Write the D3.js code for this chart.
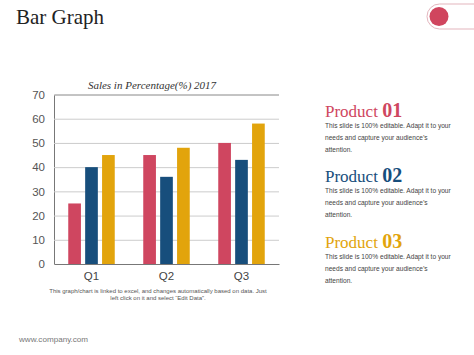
<!DOCTYPE html>
<html><head><meta charset="utf-8">
<script src="https://cdn.jsdelivr.net/npm/d3@7"></script>
<style>body{margin:0;background:#fff}svg{display:block}</style>
</head><body>
<script>
const categories = ["Q1","Q2","Q3"];
const seriesNames = ["Product 01","Product 02","Product 03"];
const product01 = [25,45,50];
const product02 = [40,36,43];
const product03 = [45,48,58];
const yTicks = [0,10,20,30,40,50,60,70];
const colors = ["#cf4660","#174e7c","#e2a40c"];
const desc = ["This slide is 100% editable. Adapt it to your","needs and capture your audience’s","attention."];

const W=474,H=355;
const svg=d3.select("body").append("svg").attr("width",W).attr("height",H);

svg.append("text").attr("x",16).attr("y",24).attr("font-family","Liberation Serif, serif")
  .attr("font-size",21).attr("fill","#222").text("Bar Graph");
// top right pill
svg.append("rect").attr("x",427).attr("y",4).attr("width",60).attr("height",25).attr("rx",12.5)
  .attr("fill","#fff").attr("stroke","#e3b5bd").attr("stroke-width",1);
svg.append("circle").attr("cx",439).attr("cy",16.5).attr("r",9.5).attr("fill","#d0455e");

const x0=d3.scaleBand().domain(categories).range([54,279]).paddingInner(0.38).paddingOuter(0.19);
const x1=d3.scaleBand().domain(seriesNames).range([0,x0.bandwidth()]).paddingInner(0.25);
const y=d3.scaleLinear().domain([0,70]).range([264,94.5]);

const g=svg.append("g");
const gy=g.append("g").attr("transform","translate(54,0)")
 .call(d3.axisLeft(y).tickValues(yTicks).tickSize(-225).tickPadding(9));
gy.select(".domain").attr("stroke","#777");
gy.selectAll(".tick line").attr("stroke","#ccc");
gy.selectAll(".tick text").attr("font-family","Liberation Sans, Arial, sans-serif").attr("font-size",11.5).attr("fill","#555");

svg.append("text").attr("x",152).attr("y",89).attr("text-anchor","middle")
 .attr("font-family","Liberation Serif, serif").attr("font-style","italic").attr("font-size",11).attr("fill","#333")
 .text("Sales in Percentage(%) 2017");

const series=[product01,product02,product03];
categories.forEach((c,i)=>{
  series.forEach((s,j)=>{
    g.append("rect").attr("x",x0(c)+x1(seriesNames[j])).attr("y",y(s[i]))
     .attr("width",x1.bandwidth()).attr("height",y(0)-y(s[i])).attr("fill",colors[j]);
  });
});
const gx=g.append("g").attr("transform","translate(0,264)").call(d3.axisBottom(x0).tickSize(0).tickPadding(8));
gx.select(".domain").attr("stroke","#777");
gx.selectAll(".tick text").attr("font-family","Liberation Sans, Arial, sans-serif").attr("font-size",11.5).attr("fill","#444");

const foot=["This graph/chart is linked to excel, and changes automatically based on data. Just","left click on it and select “Edit Data”."];
foot.forEach((t,i)=>svg.append("text").attr("x",158).attr("y",293+i*7.2).attr("text-anchor","middle")
  .attr("font-family","Liberation Sans, Arial, sans-serif").attr("font-size",6).attr("fill","#555").text(t));

svg.append("text").attr("x",19).attr("y",342).attr("font-family","Liberation Sans, Arial, sans-serif")
 .attr("font-size",8.1).attr("fill","#777").text("www.company.com");

const baseY=[117,182,248];
seriesNames.forEach((n,j)=>{
  const t=svg.append("text").attr("x",325).attr("y",baseY[j]).attr("fill",colors[j]).attr("font-family","Liberation Serif, serif");
  t.append("tspan").attr("font-size",17).text("Product ");
  t.append("tspan").attr("font-size",20).attr("font-weight","bold").text(n.split(" ")[1]);
  desc.forEach((d,k)=>svg.append("text").attr("x",325).attr("y",baseY[j]+11+k*12)
    .attr("font-family","Liberation Sans, Arial, sans-serif").attr("font-size",6.6).attr("fill","#444").text(d));
});
</script>
</body></html>
